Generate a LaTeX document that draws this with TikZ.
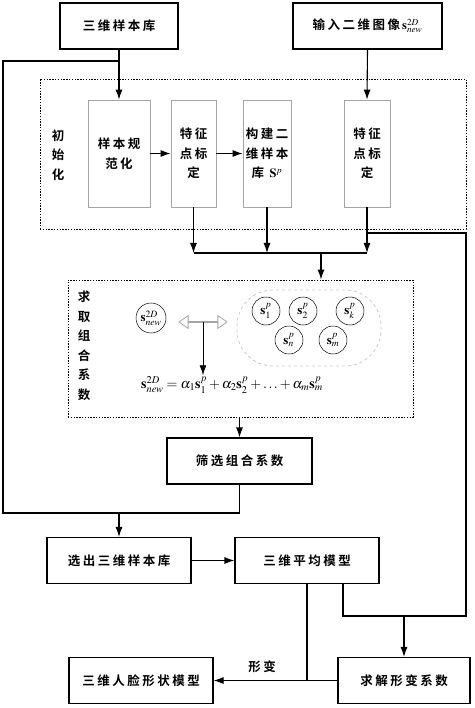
\documentclass[tikz,border=0pt]{standalone}
\usepackage{amssymb, amsmath}
\usepackage{mathptmx}
\usepackage{fontspec}
\usepackage{tikz}
\usetikzlibrary{arrows.meta, shapes.arrows}
\newfontfamily\cjk[LetterSpace=20, BoldFont={Noto Sans CJK SC Bold}]{Noto Sans CJK SC}
\definecolor{pale}{RGB}{165, 165, 165}
\definecolor{faint}{RGB}{200, 200, 200}

\begin{document}
\begin{tikzpicture}[x=1pt, y=-1pt, line width=1.1pt,
    >={Latex[length=10pt, width=7pt]},
    box/.style={draw, minimum height=46pt, inner sep=1pt,
      font=\cjk\bfseries\fontsize{12.5}{19.5}\selectfont},
    inbox/.style={draw=pale, line width=0.8pt, minimum height=107pt,
      inner sep=1pt, align=center,
      font=\cjk\bfseries\fontsize{12.5}{19.5}\selectfont},
    side/.style={align=center, inner sep=0pt,
      font=\cjk\bfseries\fontsize{12.5}{19.5}\selectfont},
    frame/.style={draw, line width=0.9pt, dash pattern=on 1.4pt off 1.4pt},
    ring/.style={circle, draw, line width=0.5pt, minimum size=28pt,
      inner sep=0pt, font=\fontsize{13}{13}\selectfont}]
  \useasboundingbox (0,0) rectangle (474,708);

  % Top
  \node [box, minimum width=118pt] (lib3d) at (119,26) {三维样本库};
  \node [box, minimum width=149pt] (img) at (367.5,26)
    {输入二维图像\,$\mathbf{s}^{2D}_{new}$};

  % Init
  \node [frame, minimum width=426pt, minimum height=150pt] (init) at (253,154) {};
  \node [side] (initlab) at (58,155) {初\\始\\化};
  \node [inbox, minimum width=62pt] (norm) at (119,153.5) {样本规\\范化};
  \node [inbox, minimum width=45pt] (feat1) at (193.5,153.5) {特征\\点标\\定};
  \node [inbox, minimum width=48pt] (build) at (267,153.5)
    {构建二\\维样本\\库 $\mathbf{S}^p$};
  \node [inbox, minimum width=46pt] (feat2) at (367,153.5) {特征\\点标\\定};

  \draw [->] (lib3d.south) -- (norm.north);
  \draw [->] (img.south) -- (feat2.north);
  \draw [->] (norm.east) -- (feat1.west);
  \draw [->] (feat1.east) -- (build.west);

  % Join
  \coordinate (join) at (321,253);
  \draw [->] (feat1.south) -- (feat1.south |- join);
  \draw [->] (build.south) -- (build.south |- join);
  \draw [->] (feat2.south) -- (feat2.south |- join);
  \draw (feat1.south |- join) -- (feat2.south |- join);

  % Solve
  \node [frame, minimum width=345pt, minimum height=137pt] (solve) at (240.5,348.5) {};
  \node [side] (solvelab) at (84,346) {求\\取\\组\\合\\系\\数};
  \draw [->] (join) -- (join |- solve.north);

  \node [ring, minimum size=30pt] (snew) at (151,318) {$\mathbf{s}^{2D}_{new}$};
  \node [double arrow, draw=pale, line width=0.8pt, inner sep=0pt,
    minimum width=8pt, minimum height=48pt, double arrow head extend=6pt,
    double arrow tip angle=70] (link) at (203,322) {};
  \node [draw=faint, line width=0.8pt, dashed, rounded corners=36pt,
    minimum width=144pt, minimum height=76pt] (pool) at (309,328) {};
  \node [ring] (s1) at (266,311) {$\mathbf{s}^p_1$};
  \node [ring] (s2) at (303,311) {$\mathbf{s}^p_2$};
  \node [ring] (sk) at (350,311) {$\mathbf{s}^p_k$};
  \node [ring] (sn) at (289,340) {$\mathbf{s}^p_n$};
  \node [ring] (sm) at (333,340) {$\mathbf{s}^p_m$};
  \node [inner sep=1pt, font=\fontsize{14}{16}\selectfont] (eq) at (232,385)
    {$\mathbf{s}^{2D}_{new}=\alpha_1\mathbf{s}^p_1+\alpha_2\mathbf{s}^p_2+\ldots+\alpha_m\mathbf{s}^p_m$};
  \draw [->, line width=0.9pt] (link.center) -- (link.center |- eq.north);

  % Pick
  \node [box, minimum width=145pt] (pick) at (239.5,461) {筛选组合系数};
  \draw [->] (solve.south -| pick.north) -- (pick.north);

  \node [box, minimum width=144pt] (sel) at (119,560.5) {选出三维样本库};
  \node [box, minimum width=144pt] (mean) at (307,560.5) {三维平均模型};
  \node [box, minimum width=144pt] (face) at (141,680.5) {三维人脸形状模型};
  \node [box, minimum width=132pt] (coef) at (404,680.5) {求解形变系数};

  % Left loop
  \coordinate (left) at (3,61);
  \coordinate (low) at (3,513);
  \draw (lib3d.south |- left) -- (left) -- (low) -- (pick.south |- low) -- (pick.south);
  \draw [->] (sel.north |- low) -- (sel.north);
  \draw [->] (sel.east) -- (mean.west);

  % Right loop
  \coordinate (tap) at (466,233);
  \coordinate (merge) at (404,616);
  \draw (feat2.south |- tap) -- (tap) |- (merge);
  \draw ([xshift=36pt]mean.south) |- (merge);
  \draw [->] (merge) -- (coef.north);

  % Deform
  \draw [->] (coef.west) -- (face.east);
  \draw (mean.south) -- (mean.south |- coef.west);
  \node [side] (deform) at (262,667) {形变};
\end{tikzpicture}
\end{document}
